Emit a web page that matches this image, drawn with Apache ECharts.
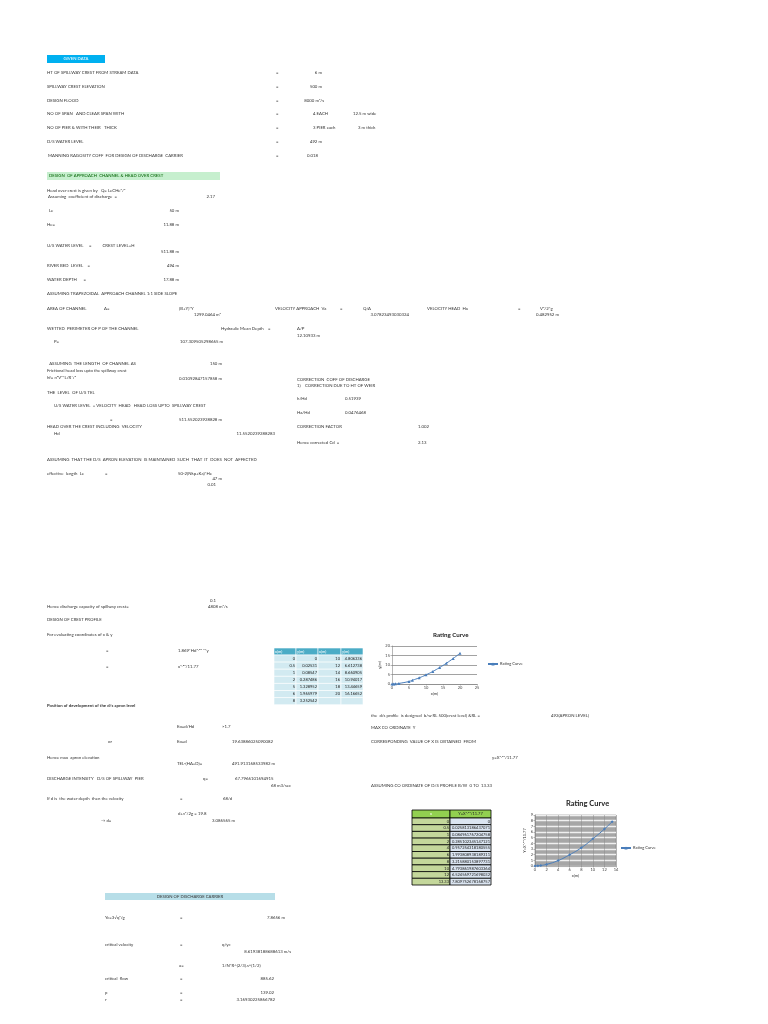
<!DOCTYPE html>
<html><head><meta charset="utf-8">
<script src="https://cdn.jsdelivr.net/npm/echarts@6/dist/echarts.min.js"></script>
<style>html,body{margin:0;padding:0;background:#fff}#c{width:768px;height:1024px}</style>
</head><body><div id="c"></div>
<script>
// ---- data: crest profile table / chart 1 ----
const crestX = [0, 0.5, 1, 2, 5, 6, 8, 10, 12, 14, 16, 18, 20];
const crestY = [0, 0.02531, 0.08547, 0.287486, 1.328952, 1.965979, 3.252542, 4.806336, 6.612738, 8.660905, 10.94017, 13.44659, 16.16652];
const crestHeaders = ['x(m)', 'y(m)', 'x(m)', 'y(m)'];
// ---- data: d/s profile table / chart 2 ----
const dsX = [0, 0.5, 1, 2, 4, 6, 8, 10, 12, 13.33];
const dsYText = ['0', '0.025813186437071', '0.084961767204758', '0.285102345147121', '0.957254318180555', '1.993808938189311', '3.215880153897731', '4.793861987603364', '6.524569721698032', '7.809752678168757'];
const dsY = dsYText.map(Number);
const dsHeaders = ['x', 'Y=X¹·⁸⁵/11.77'];
// ---- tick labels ----
const ticks1X = [0, 5, 10, 15, 20, 25];
const ticks1Y = [0, 5, 10, 15, 20];
const ticks2X = [0, 2, 4, 6, 8, 10, 12, 14];
const ticks2Y = [0, 1, 2, 3, 4, 5, 6, 7, 8, 9];
const seriesName = 'Rating Curve';

// ---- page text (layout) ----
const pageText = [
[47,73,'HT OF SPILLWAY CREST FROM STREAM DATA'],[276,73,'='],[322,73,'6 m','right'],
[47,87,'SPILLWAY CREST ELEVATION'],[276,87,'='],[322,87,'500 m','right'],
[47,101,'DESIGN FLOOD'],[276,101,'='],[324,101,'8000 m³/s','right'],
[47,114,'NO OF SPAN   AND CLEAR SPAN WITH'],[276,114,'='],[313,114,'4 EACH'],[353,114,'12.5 m wide'],
[47,128,'NO OF PIER & WITH THEIR   THICK'],[276,128,'='],[313,128,'3 PIER each'],[358,128,'3 m thick'],
[47,142,'D/S WATER LEVEL'],[276,142,'='],[322,142,'492 m','right'],
[47,156,' MANNING RAGOSITY COFF  FOR DESIGN OF DISCHARGE  CARRIER'],[276,156,'='],[307,156,'0.018'],
[47,191,'Head over crest is given by   Q= LeCHe³/²'],
[47,197,' Assuming  coefficient of discharge  ='],[215,197,'2.17','right'],
[49,211,'Le'],[179,211,'50 m','right'],
[47,225,'He='],[179,225,'11.88 m','right'],
[47,246,'U/S WATER LEVEL     =          CREST LEVEL+H'],
[179,252,'511.88 m','right'],
[47,266,'RIVER BED  LEVEL    ='],[179,266,'494 m','right'],
[47,280,'WATER DEPTH      ='],[179,280,'17.88 m','right'],
[47,294,'ASSUMING TRAPEZOIDAL  APPROACH CHANNEL 1:1 SIDE SLOPE'],
[47,309,'AREA OF CHANNEL'],[104,309,'A='],[179,309,'(B+Y)*Y'],[221,315,'1299.0464 m²','right'],
[275,309,'VELOCITY APPROACH  Va'],[340,309,'='],[363,309,'Q/A'],[409,315,'3.07823493030324','right'],
[427,309,'VELOCITY HEAD  Ha'],[518,309,'='],[540,309,'V²/2*g'],[559,315,'0.482952 m','right'],
[47,329,'WETTED  PERIMETER OF P OF THE CHANNEL'],[221,329,'Hydraulic Mean Depth    ='],[297,329,'A/P'],[297,336,'12.10933 m'],
[54,342,'P='],[180,342,'107.309505298665 m'],
[47,364,'  ASSUMING  THE LENGTH  OF CHANNEL AS'],[222,364,'150 m','right'],
[47,371,'Frictional head loss upto the spillway crest'],
[47,378,'hf= n²V²*L/R⁴/³'],[222,379,'0.01092847157858 m','right'],
[297,380,'CORRECTION  COFF OF DISCHARGE'],[297,386,'1)    CORRECTION DUE TO HT OF WEIR'],
[47,393,'THE  LEVEL  OF U/S TEL'],
[297,399,'h/Hd'],[345,399,'0.51939'],
[54,406,'U/S WATER LEVEL  + VELOCITY  HEAD   HEAD LOSS UPTO  SPILLWAY CREST'],
[297,413,'Ha/Hd'],[345,413,'0.0476468'],
[110,420,'='],[222,420,'511.552023928828 m','right'],
[47,427,'HEAD OVER THE CREST INCLUDING  VELOCITY'],[297,427,'CORRECTION FACTOR'],[418,427,'1.002'],
[54,434,'Hd'],[275,434,'11.5520239288283','right'],
[297,443,'Hence corrected Cd  ='],[418,443,'2.13'],
[47,460,'ASSUMING  THAT THE D/S  APRON ELEVATION  IS MAINTAINED  SUCH  THAT  IT  DOES  NOT  AFFECTED'],
[47,474,'effective  length  Le'],[105,474,'='],[178,474,'50-2(Nkp+Ka)*He'],[222,479,'47 m','right'],[216,485,'0.01','right'],
[216,601,'0.1','right'],
[47,607,'Hence discharge capacity of spillway crest='],[208,607,'4808 m³/s'],
[47,620,'DESIGN OF CREST PROFILE'],
[47,635,'For evaluating coordinates of x & y'],
[106,651,'='],[178,651,'1.869*Hd¹·⁸⁵⁻¹*y'],
[106,667,'='],[178,667,'x¹·⁸⁵/11.77'],
[47,706,'Position of development of the d/s apron level','left',true],
[371,716,'the  d/s profile  is designed  b/w RL 500(crest level) &RL ='],[551,716,'492(APRON LEVEL)'],
[177,727,'Eo=d/Hd'],[222,727,'>1.7'],[371,728,'MAX CO ORDINATE  Y'],
[108,742,'or'],[177,742,'Eo=d'],[232,742,'19.63886025090082'],[371,742,'CORRESPONDING  VALUE OF X IS OBTAINED  FROM'],
[47,758,'Hence max  apron elevation'],[492,758,'y=X¹·⁸⁵/11.77'],
[177,764,'TEL-(HA+D)='],[232,764,'491.913168533982 m'],
[47,779,'DISCHARGE INTENSITY   D/S OF SPILLWAY  PIER'],[203,779,'q='],[235,779,'67.7966101694915'],[271,786,'68 m3/sec'],
[371,786,'ASSUMING CO ORDINATE OF D/S PROFILE B/W  0 TO  13.33'],
[47,799,'If d is  the water depth  then the velocity'],[180,799,'='],[223,799,'68/d'],
[178,814,'d+v²/2g = 19.8'],[101,821,'→ d='],[212,821,'3.086565 m'],
[105,918,'Yc=3√q²/g'],[180,918,'='],[285,918,'7.8656 m','right'],
[105,945,'critical velocity'],[180,945,'='],[222,945,'q/yc'],[291,952,'8.61938188688613 m/s','right'],
[179,966,'a='],[222,966,'1/N*R^(2/3).s^(1/2)'],
[105,979,'critical  flow'],[180,979,'='],[274,979,'885.62','right'],
[105,993,'p'],[180,993,'='],[274,993,'139.02','right'],
[105,1000,'r'],[180,1000,'='],[275,1000,'3.16930225866782','right']
];

const FONT = 'Lato';
const FS = 4.3;
const g = [];
function txt(x, y, s, align, bold, fill, size) {
  g.push({type:'text', x:x, y:y, silent:true, z:10, style:{text:s, fontSize:size||FS, fontFamily:FONT,
    fontWeight: bold ? 'bold' : 'normal', fill: fill||'#333', align: align||'left', verticalAlign:'middle'}});
}
function box(x, y, w, h, fill, stroke, lw) {
  g.push({type:'rect', silent:true, z:5, shape:{x:x, y:y, width:w, height:h},
    style:{fill:fill, stroke:stroke||null, lineWidth:lw||0}});
}
// section header boxes
box(47, 55, 58, 8, '#00b0f0'); txt(76, 59, 'GIVEN DATA', 'center', false, '#ffffff');
box(47, 172, 173, 8, '#c6efce'); txt(49, 176, 'DESIGN  OF APPROACH  CHANNEL & HEAD OVER CREST', 'left', false, '#006100');
box(105, 893, 170, 7, '#b7dee8'); txt(190, 896.5, 'DESIGN OF DISCHARGE CARRIER', 'center', false, '#333');
pageText.forEach(function (t) { txt(t[0], t[1], t[2], t[3], t[4]); });

// table 1 (crest profile)
const t1Cols = [274, 296, 318, 341, 363];
const t1Top = 648, t1HeadH = 7, t1RowH = 7.1;
for (let c = 0; c < 4; c++) {
  box(t1Cols[c], t1Top, t1Cols[c+1]-t1Cols[c], t1HeadH, '#4bacc6', '#ffffff', 0.6);
  txt(t1Cols[c] + 1, t1Top + t1HeadH/2, crestHeaders[c], 'left', false, '#ffffff', 4);
}
for (let r = 0; r < 7; r++) {
  const y0 = t1Top + t1HeadH + r * t1RowH;
  const cells = [crestX[r], crestY[r], crestX[r+7], crestY[r+7]];
  for (let c = 0; c < 4; c++) {
    box(t1Cols[c], y0, t1Cols[c+1]-t1Cols[c], t1RowH, '#d2eaf1', '#ffffff', 0.6);
    if (cells[c] !== undefined) txt(t1Cols[c+1] - 1, y0 + t1RowH/2, String(cells[c]), 'right', false, '#222', 4);
  }
}
// table 2 (d/s profile)
const t2Cols = [412, 450, 491];
const t2Top = 810, t2HeadH = 8, t2RowH = 6.7;
box(t2Cols[0], t2Top, t2Cols[1]-t2Cols[0], t2HeadH, '#92d050', '#000', 0.8);
box(t2Cols[1], t2Top, t2Cols[2]-t2Cols[1], t2HeadH, '#92d050', '#000', 0.8);
txt((t2Cols[0]+t2Cols[1])/2, t2Top + t2HeadH/2, dsHeaders[0], 'center', false, '#ffffff', 4);
txt((t2Cols[1]+t2Cols[2])/2, t2Top + t2HeadH/2, dsHeaders[1], 'center', false, '#222', 4);
for (let r = 0; r < dsX.length; r++) {
  const y0 = t2Top + t2HeadH + r * t2RowH;
  box(t2Cols[0], y0, t2Cols[1]-t2Cols[0], t2RowH, '#c4d79b', '#000', 0.8);
  box(t2Cols[1], y0, t2Cols[2]-t2Cols[1], t2RowH, '#dbe5f1', '#000', 0.8);
  txt(t2Cols[1] - 1, y0 + t2RowH/2, String(dsX[r]), 'right', false, '#222', 4);
  txt(t2Cols[2] - 1, y0 + t2RowH/2, dsYText[r], 'right', false, '#222', 4);
}

const lineColor = '#4a7ebb';
const axisLbl = {fontSize:4, fontFamily:FONT, color:'#444', margin:2};
function valAxis(ticks, gi, extra) {
  return Object.assign({type:'value', gridIndex:gi, min:ticks[0], max:ticks[ticks.length-1],
    interval:ticks[1]-ticks[0], axisLabel:axisLbl,
    axisLine:{show:true, onZero:false, lineStyle:{color:'#868686', width:0.6}},
    axisTick:{show:true, length:1.5, lineStyle:{color:'#868686', width:0.6}},
    nameTextStyle:{fontSize:4, fontFamily:FONT, color:'#333'}}, extra);
}

const chart = echarts.init(document.getElementById('c'), null, {renderer:'canvas'});
chart.setOption({
  animation:false,
  backgroundColor:'#ffffff',
  title:[
    {text:'Rating Curve', left:433, top:632, padding:0, textStyle:{fontSize:6.2, fontWeight:'bold', fontFamily:FONT, color:'#222'}},
    {text:'Rating Curve', left:566, top:800, padding:0, textStyle:{fontSize:7.5, fontWeight:'bold', fontFamily:FONT, color:'#222'}}
  ],
  legend:[
    {data:[seriesName], left:487, top:662, padding:0, itemWidth:10, itemHeight:4, itemGap:2,
      textStyle:{fontSize:4, fontFamily:FONT, color:'#333', padding:[0,0,0,-3]}},
    {data:[seriesName], left:620, top:846, padding:0, itemWidth:10, itemHeight:4, itemGap:2,
      textStyle:{fontSize:4, fontFamily:FONT, color:'#333', padding:[0,0,0,-3]}}
  ],
  grid:[
    {left:392, top:646, width:85, height:38},
    {left:535, top:815, width:81, height:51, show:true, backgroundColor:'#a6a6a6', borderColor:'#7f7f7f', borderWidth:0.6}
  ],
  xAxis:[
    valAxis(ticks1X, 0, {name:'x(m)', nameLocation:'middle', nameGap:8, splitLine:{show:false}}),
    valAxis(ticks2X, 1, {name:'x(m)', nameLocation:'middle', nameGap:8,
      splitLine:{show:true, lineStyle:{color:'#8a8a8a', width:0.5}}})
  ],
  yAxis:[
    valAxis(ticks1Y, 0, {name:'y(m)', nameLocation:'middle', nameGap:8, nameRotate:90,
      splitLine:{show:true, lineStyle:{color:'#7a7a7a', width:0.7}}}),
    valAxis(ticks2Y, 1, {name:'Y=X¹·⁸⁵/11.77', nameLocation:'middle', nameGap:6, nameRotate:90,
      splitLine:{show:true, lineStyle:{color:'#efefef', width:1.4}}})
  ],
  series:[
    {name:seriesName, type:'line', xAxisIndex:0, yAxisIndex:0, smooth:true,
      data:crestX.map(function (x, i) { return [x, crestY[i]]; }),
      symbol:'triangle', symbolSize:3, lineStyle:{color:lineColor, width:1}, itemStyle:{color:lineColor}},
    {name:seriesName, type:'line', xAxisIndex:1, yAxisIndex:1, smooth:true,
      data:dsX.map(function (x, i) { return [x, dsY[i]]; }),
      symbol:'diamond', symbolSize:3, lineStyle:{color:lineColor, width:1}, itemStyle:{color:lineColor}}
  ],
  graphic:{elements:g}
});
</script></body></html>
